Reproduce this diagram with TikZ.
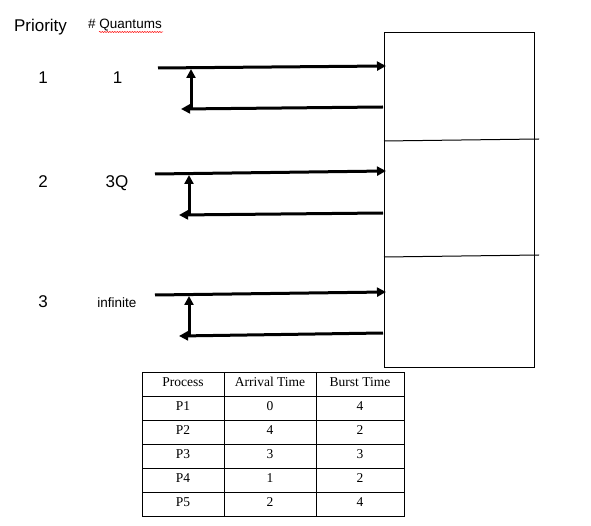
\documentclass[tikz,border=0pt]{standalone}
\usepackage{fontspec}
\setmainfont{Liberation Serif}
\setsansfont{Liberation Sans}
\usepackage{tikz}
\usetikzlibrary{arrows.meta,positioning,decorations.pathmorphing}

\begin{document}
\begin{tikzpicture}[x=1pt,y=-1pt,
  pfeil/.style={line width=3pt,-{Triangle[length=9pt,width=9pt]}},
  gross/.style={font=\sffamily\fontsize{17}{17}\selectfont,anchor=base,inner sep=0pt},
  klein/.style={font=\sffamily\fontsize{13.5}{13.5}\selectfont,anchor=base,inner sep=0pt},
  tab/.style={font=\fontsize{13.5}{13.5}\selectfont,anchor=base,inner sep=0pt}]
\useasboundingbox (0,0) rectangle (591,526);
%Ueberschriften
\node[gross] (prio) at (40.5,32) {Priority};
\node[klein] (quant) at (125,29) {\# Quantums};
\draw[red,line width=0.5pt,decorate,decoration={snake,amplitude=0.6pt,segment length=2.5pt}] (99,32) -- (163,32);
%Warteschlangen
\node[draw,line width=1pt,anchor=north west,minimum width=150pt,minimum height=335pt,inner sep=0pt] (queue) at (384,32) {};
\draw[line width=1pt] (384,141) -- (539,139);
\draw[line width=1pt] (384,257) -- (539,255);
%Zeilen: ya,yb oben, yc,yd unten, xs Start, xv senkrecht, xl Spitze links, yt Text
\foreach \nr/\ya/\yb/\yc/\yd/\xs/\xv/\xl/\yt/\prio/\quant in
  {1/68/66/107/109/158/191/181/84/1/1,
   2/174/171/213/215/155/189/179/188/2/3Q,
   3/295/292/333/336/155/189/179/308/3/infinite}{
  \coordinate (start\nr) at (\xs,\ya);
  \coordinate (ziel\nr) at (386,\yb);
  \coordinate (rueck\nr) at (383,\yc);
  \coordinate (ende\nr) at (\xl,\yd);
  \coordinate (fuss\nr) at (\xv,\yd);
  \coordinate (kopf\nr) at (\xv,\ya+1);
  \draw[pfeil] (start\nr) -- (ziel\nr);
  \draw[pfeil] (rueck\nr) -- (ende\nr);
  \draw[pfeil] (fuss\nr) -- (kopf\nr);
  \node[gross] (p\nr) at (43,\yt) {\prio};
}
\node[gross] (q1) at (117.5,84) {1};
\node[gross] (q2) at (117,188) {3Q};
\node[klein] (q3) at (117,308) {infinite};
%Tabelle
\draw[line width=0.8pt] (142,372) rectangle (404,516);
\draw[line width=0.8pt] (224,372) -- (224,516) (316,372) -- (316,516);
\node[tab] (kopfA) at (183,386) {Process};
\node[tab] (kopfB) at (270,386) {Arrival Time};
\node[tab] (kopfC) at (360,386) {Burst Time};
\foreach \p/\a/\b [count=\i] in {P1/0/4,P2/4/2,P3/3/3,P4/1/2,P5/2/4}{
  \draw[line width=0.8pt] (142,372+24*\i) -- (404,372+24*\i);
  \node[tab] (proz\i) at (183,386+24*\i) {\p};
  \node[tab] (ank\i) at (270,386+24*\i) {\a};
  \node[tab] (dauer\i) at (360,386+24*\i) {\b};
}
\end{tikzpicture}
\end{document}
